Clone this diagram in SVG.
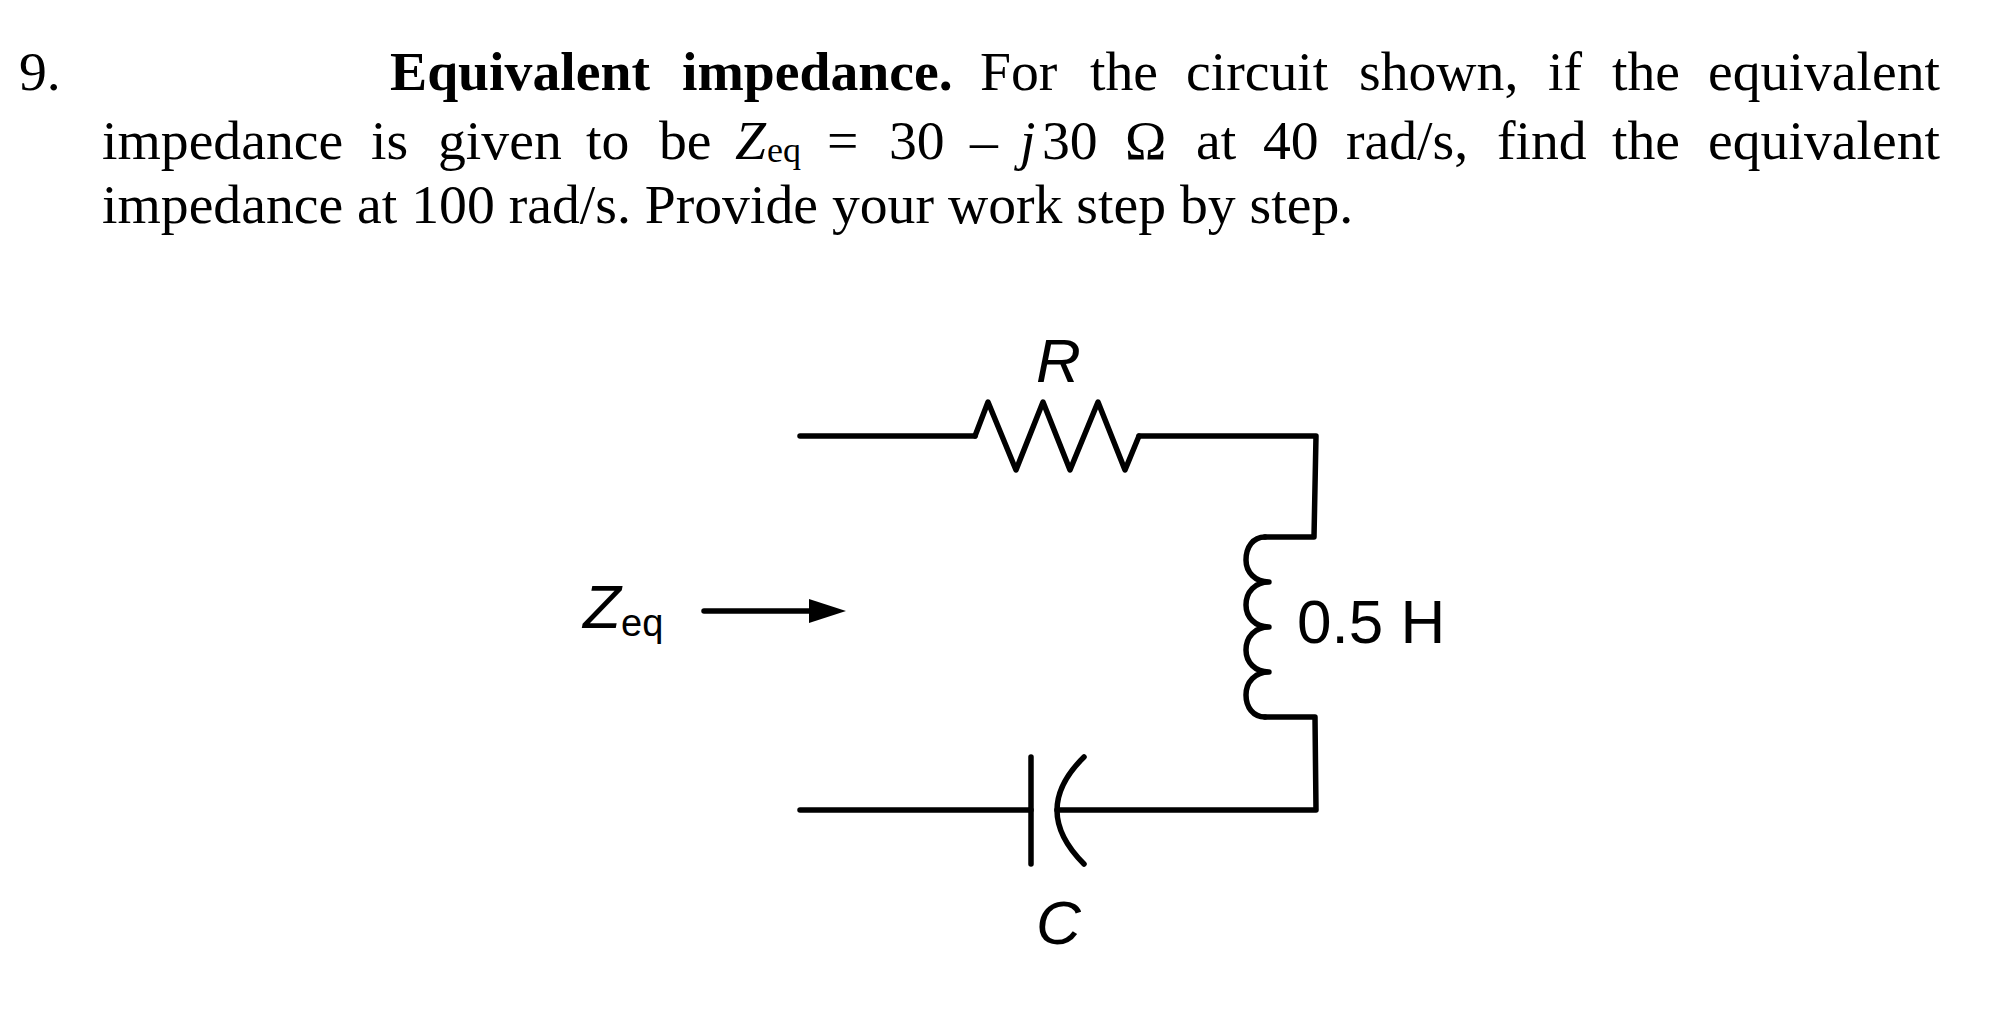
<svg xmlns="http://www.w3.org/2000/svg" width="2008" height="1016" viewBox="0 0 2008 1016">
<defs>
<style>
.t{font-family:"Liberation Serif","Times New Roman",serif;font-size:55.7px;fill:#000}
.b{font-weight:bold}
.i{font-style:italic}
.s{font-family:"Liberation Serif","Times New Roman",serif;font-size:36px;fill:#000}
.a{font-family:"Liberation Sans",Arial,sans-serif;font-size:62px;fill:#000}
.w{fill:none;stroke:#000;stroke-width:5.5;stroke-linecap:round;stroke-linejoin:round}
</style>
<marker id="head" markerUnits="userSpaceOnUse" markerWidth="38" markerHeight="26" refX="11" refY="12.5" orient="auto"><path d="M0 0.5L37 12.5L0 24.5Z" fill="#000"/></marker>
</defs>
<rect width="2008" height="1016" fill="#fff"/>
<g id="question">
<text class="t" x="19" y="90">9.</text>
<text class="t b" x="390" y="90">Equivalent</text><text class="t b" x="682" y="90">impedance.</text>
<text class="t" x="980" y="90">For</text><text class="t" x="1090" y="90">the</text><text class="t" x="1186" y="90">circuit</text><text class="t" x="1359" y="90">shown,</text><text class="t" x="1548" y="90">if</text><text class="t" x="1612" y="90">the</text><text class="t" x="1708" y="90">equivalent</text>
<text class="t" x="102" y="158.8">impedance</text><text class="t" x="371" y="158.8">is</text><text class="t" x="438" y="158.8">given</text><text class="t" x="586" y="158.8">to</text><text class="t" x="659" y="158.8">be</text><text class="t i" x="735" y="158.8">Z</text><text class="s" x="767" y="162">eq</text><text class="t" x="827" y="158.8">=</text><text class="t" x="889" y="158.8">30</text><text class="t" x="970" y="158.8">–</text><text class="t i" x="1020" y="158.8">j</text><text class="t" x="1042" y="158.8">30</text><text class="t" x="1125" y="158.8">Ω</text><text class="t" x="1196" y="158.8">at</text><text class="t" x="1263" y="158.8">40</text><text class="t" x="1346" y="158.8">rad/s,</text><text class="t" x="1497" y="158.8">find</text><text class="t" x="1612" y="158.8">the</text><text class="t" x="1708" y="158.8">equivalent</text>
<text class="t" x="102" y="223">impedance at 100 rad/s. Provide your work step by step.</text>
</g>
<g id="connectors">
<path class="w" d="M800 436H975"/>
<path class="w" d="M1139 436H1316L1314 537H1265"/>
<path class="w" d="M1265 717H1315L1316 810H1057"/>
<path class="w" d="M1031 810H800"/>
<path class="w" d="M704 611H820" marker-end="url(#head)"/>
</g>
<g id="resistor">
<path class="w" d="M975 436L988 402L1016 470L1043 402L1070 470L1098 402L1125 470L1139 436"/>
<text class="a i" x="1036" y="382">R</text>
</g>
<g id="inductor">
<path class="w" d="M1265 537C1253 537 1246 547 1246 560C1246 572 1255 582 1269 582C1255 582 1246 592 1246 605C1246 617 1255 627 1269 627C1255 627 1246 637 1246 650C1246 662 1255 672 1269 672C1255 672 1246 682 1246 695C1246 707 1253 717 1265 717"/>
<text class="a" x="1297" y="643">0.5 H</text>
</g>
<g id="capacitor">
<path class="w" d="M1031 757V864"/>
<path class="w" d="M1084 757Q1030 810 1084 864"/>
<text class="a i" x="1036" y="944">C</text>
</g>
<g id="zeq">
<text class="a i" x="583" y="628">Z</text>
<text class="a" style="font-size:38px" x="621" y="636">eq</text>
</g>
</svg>
